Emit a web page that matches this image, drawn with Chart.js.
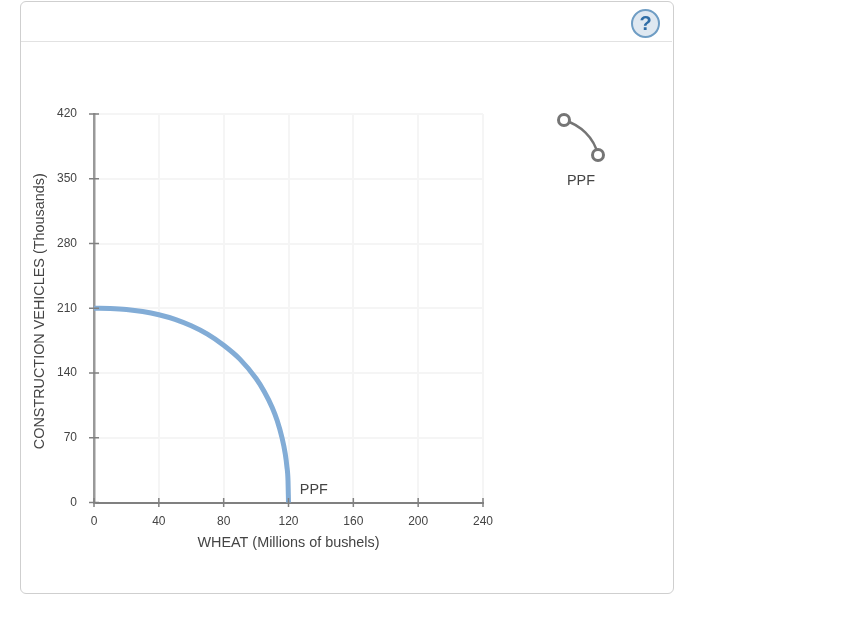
<!DOCTYPE html>
<html>
<head>
<meta charset="utf-8">
<script src="https://cdn.jsdelivr.net/npm/chart.js@4"></script>
<style>
html,body{margin:0;padding:0;background:#fff;width:858px;height:629px;overflow:hidden;font-family:"Liberation Sans",Arial,sans-serif;}
#panel{position:absolute;left:20px;top:1px;width:652px;height:591px;border:1px solid #cfcfcf;border-radius:6px;}
#hdr{position:absolute;left:21px;top:41px;width:651px;height:1px;background:#e2e2e2;}
#c{position:absolute;left:0;top:0;}
#help{position:absolute;left:631px;top:9px;width:25px;height:25px;border:2px solid #6f9dc4;border-radius:50%;background:#dfe8f1;color:#2f6da6;font:bold 20px/25px "Liberation Sans",Arial,sans-serif;text-align:center;}
#icon{position:absolute;left:550px;top:105px;}
#iconlabel{position:absolute;left:551px;top:172px;width:60px;text-align:center;font-size:14.4px;line-height:16px;color:#444;}
</style>
</head>
<body>
<div id="panel"></div>
<div id="hdr"></div>
<canvas id="c" width="858" height="629"></canvas>
<div id="help">?</div>
<svg id="icon" width="64" height="64"><path d="M14 15 C30 20 44 32 48 50" fill="none" stroke="#757575" stroke-width="2.5"/><circle cx="14" cy="15" r="5.5" fill="#fff" stroke="#757575" stroke-width="3"/><circle cx="48" cy="50" r="5.5" fill="#fff" stroke="#757575" stroke-width="3"/></svg>
<div id="iconlabel">PPF</div>
<script>
const wheat = [0, 10, 20, 30, 40, 50, 60, 70, 80, 90, 100, 105, 110, 113, 116, 118, 119, 119.7, 120];
const vehicles = [210, 209.7, 208.7, 206.5, 203, 198, 191, 182, 170, 155, 134, 120, 102.5, 88.7, 70, 52.6, 39, 23.6, 0];
const xTicks = [0, 40, 80, 120, 160, 200, 240];
const yTicks = [0, 70, 140, 210, 280, 350, 420];
const xTitle = "WHEAT (Millions of bushels)";
const yTitle = "CONSTRUCTION VEHICLES (Thousands)";
const curveLabel = "PPF";
const curveLabelAt = [127, 13];

const crossTicks = {
  id: 'crossTicks',
  afterDatasetsDraw(chart) {
    const {ctx, scales: {x, y}} = chart;
    ctx.save();
    ctx.lineWidth = 1.5;
    ctx.strokeStyle = '#808080';
    const y0 = y.getPixelForValue(0), x0 = x.getPixelForValue(0);
    xTicks.forEach(v => {
      const p = x.getPixelForValue(v);
      ctx.beginPath(); ctx.moveTo(p, y0 - 4.5); ctx.lineTo(p, y0 + 4.5); ctx.stroke();
    });
    yTicks.forEach(v => {
      const p = y.getPixelForValue(v);
      ctx.beginPath(); ctx.moveTo(x0 - 5, p); ctx.lineTo(x0 + 5, p); ctx.stroke();
    });
    ctx.fillStyle = '#444';
    ctx.font = '14.4px "Liberation Sans", Arial, sans-serif';
    ctx.textAlign = 'left';
    ctx.textBaseline = 'middle';
    ctx.fillText(curveLabel, x.getPixelForValue(curveLabelAt[0]), y.getPixelForValue(curveLabelAt[1]));
    ctx.textAlign = 'center';
    ctx.translate(40, (y.top + y.bottom) / 2 + 3);
    ctx.rotate(-Math.PI / 2);
    ctx.fillText(yTitle, 0, 0);
    ctx.restore();
  }
};

new Chart(document.getElementById('c'), {
  type: 'line',
  data: {
    datasets: [{
      data: wheat.map((w, i) => ({x: w, y: vehicles[i]})),
      borderColor: '#82acd6',
      borderWidth: 5,
      pointRadius: 0,
      cubicInterpolationMode: 'monotone',
      fill: false,
      clip: false
    }]
  },
  plugins: [crossTicks],
  options: {
    responsive: false,
    animation: false,
    events: [],
    layout: {padding: {left: 0, top: 114, right: 375, bottom: 0}},
    plugins: {legend: {display: false}, tooltip: {enabled: false}, title: {display: false}},
    scales: {
      x: {
        type: 'linear', min: 0, max: 240,
        afterFit(s) { s.height = 126.5; },
        afterBuildTicks(s) { s.ticks = xTicks.map(v => ({value: v})); },
        grid: {color: '#f5f5f5', lineWidth: 2, drawTicks: false},
        border: {color: '#808080', width: 2},
        ticks: {color: '#444', font: {size: 12, family: '"Liberation Sans", Arial, sans-serif'}, padding: 12, maxRotation: 0},
        title: {display: true, text: xTitle, color: '#444', font: {size: 14.4, family: '"Liberation Sans", Arial, sans-serif'}, padding: {top: 0, bottom: 77}}
      },
      y: {
        type: 'linear', min: 0, max: 420,
        afterFit(s) { s.width = 94; },
        afterBuildTicks(s) { s.ticks = yTicks.map(v => ({value: v})); },
        grid: {color: '#f5f5f5', lineWidth: 2, drawTicks: false},
        border: {color: '#999999', width: 2.5},
        ticks: {color: '#444', font: {size: 12, family: '"Liberation Sans", Arial, sans-serif'}, padding: 17},
        title: {display: false}
      }
    }
  }
});
</script>
</body>
</html>
